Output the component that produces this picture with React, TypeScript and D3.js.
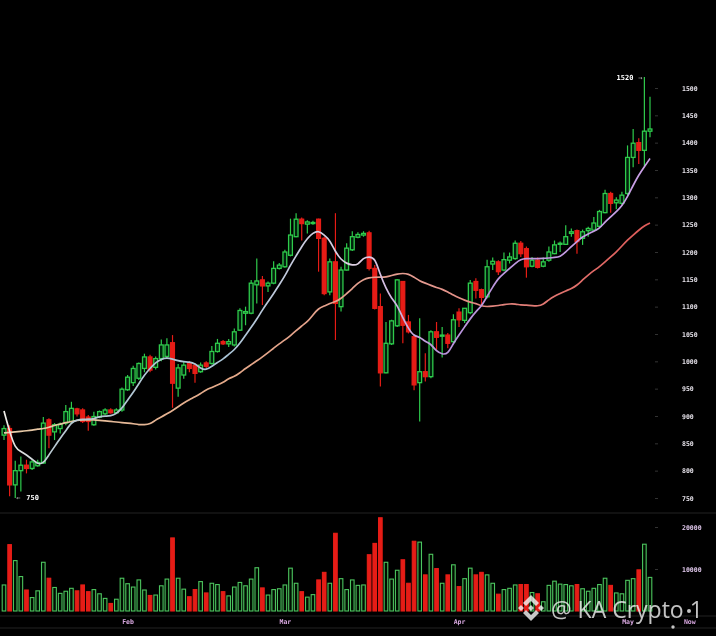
import React, { useEffect, useRef } from "react";
import * as d3 from "d3";

const opens = [
  865, 877, 774, 800, 810, 804, 809, 814, 893, 871,
  877, 887, 890, 913, 911, 898, 884, 898, 904, 911,
  906, 911, 948, 961, 969, 987, 1008, 989, 1005, 1009,
  1034, 951, 975, 996, 993, 981, 997, 996, 1018, 1036,
  1032, 1030, 1057, 1088, 1088, 1140, 1149, 1138, 1143, 1170,
  1173, 1194, 1228, 1260, 1251, 1252, 1260, 1225, 1127, 1182,
  1100, 1167, 1204, 1227, 1231, 1235, 1170, 1100, 979, 1032,
  1065, 1146, 1072, 1045, 961, 981, 972, 1054, 1046, 1048,
  1036, 1090, 1075, 1089, 1146, 1131, 1118, 1178, 1182, 1167,
  1185, 1188, 1216, 1206, 1174, 1185, 1174, 1185, 1197, 1214,
  1214, 1234, 1239, 1225, 1239, 1240, 1247, 1272, 1307, 1290,
  1289, 1307, 1373, 1400, 1386, 1421,
];
const closes = [
  877, 774, 800, 810, 804, 816, 815, 887, 865, 884,
  885, 908, 914, 904, 890, 890, 899, 908, 911, 906,
  911, 949, 971, 987, 996, 1008, 984, 1005, 1030, 1030,
  960, 988, 993, 987, 978, 993, 991, 1018, 1033, 1032,
  1036, 1054, 1093, 1091, 1143, 1147, 1138, 1143, 1170, 1176,
  1200, 1231, 1260, 1252, 1255, 1254, 1225, 1124, 1182, 1106,
  1167, 1207, 1228, 1232, 1234, 1170, 1097, 979, 1033, 1074,
  1149, 1066, 1054, 957, 981, 972, 1054, 1044, 1048, 1033,
  1076, 1076, 1097, 1143, 1130, 1117, 1173, 1183, 1164, 1186,
  1191, 1216, 1197, 1173, 1185, 1172, 1182, 1200, 1213, 1216,
  1228, 1237, 1219, 1237, 1243, 1253, 1274, 1307, 1289, 1295,
  1304, 1373, 1399, 1386, 1421, 1425,
];
const highs = [
  883, 883, 818, 826, 820, 820, 820, 898, 896, 887,
  888, 920, 926, 915, 914, 902, 908, 910, 914, 914,
  914, 952, 975, 992, 998, 1014, 1012, 1009, 1040, 1042,
  1048, 995, 1000, 1000, 996, 998, 1000, 1028, 1041, 1039,
  1041, 1060, 1097, 1100, 1149, 1188, 1156, 1146, 1183, 1180,
  1204, 1261, 1271, 1263, 1258, 1257, 1261, 1228, 1188, 1271,
  1173, 1216, 1238, 1236, 1238, 1239, 1176, 1124, 1072, 1076,
  1150, 1147, 1085, 1048, 1079, 1015, 1057, 1072, 1063, 1052,
  1086, 1097, 1097, 1149, 1152, 1133, 1186, 1190, 1185, 1199,
  1199, 1221, 1220, 1210, 1191, 1190, 1190, 1210, 1221, 1219,
  1249, 1243, 1241, 1241, 1246, 1264, 1277, 1314, 1310, 1300,
  1310, 1395, 1425, 1408, 1520, 1484,
];
const lows = [
  856, 753, 750, 762, 795, 801, 807, 812, 841, 856,
  868, 883, 887, 899, 887, 873, 882, 896, 902, 904,
  904, 908, 946, 955, 966, 980, 980, 985, 1000, 1005,
  915, 935, 968, 980, 961, 979, 988, 994, 1016, 1030,
  1026, 1027, 1056, 1066, 1086, 1106, 1103, 1127, 1141, 1168,
  1171, 1192, 1227, 1221, 1234, 1250, 1164, 1121, 1121, 1039,
  1091, 1166, 1202, 1225, 1228, 1166, 1095, 954, 978, 1030,
  1063, 1033, 1051, 947, 890, 963, 969, 1021, 1007, 1024,
  1033, 1063, 1070, 1086, 1115, 1103, 1115, 1167, 1158, 1165,
  1179, 1186, 1191, 1153, 1172, 1170, 1172, 1182, 1196, 1200,
  1213, 1228, 1197, 1213, 1228, 1239, 1246, 1271, 1272, 1278,
  1286, 1304, 1355, 1361, 1357, 1410,
];
const volumes = [
  6200, 15800, 12000, 8200, 5000, 3200, 4800, 11600, 7800, 5600,
  4200, 4700, 5400, 4800, 6200, 4600, 5100, 4100, 3000, 1800,
  2800, 7800, 6500, 5700, 7400, 5000, 3700, 3800, 6000, 7600,
  17400, 7800, 5200, 3400, 5100, 7000, 4300, 6600, 6300, 4600,
  3600, 5700, 6800, 6000, 7600, 10300, 5500, 3800, 5100, 5300,
  6200, 10200, 6600, 4600, 3300, 3900, 7400, 9200, 6600, 18500,
  7700, 5100, 7400, 6100, 6200, 13400, 16100, 22200, 11600, 7600,
  9700, 12200, 6600, 16600, 16400, 8600, 13500, 10100, 6600, 8600,
  11000, 5800, 7700, 10200, 8600, 9200, 8600, 6600, 4000, 5100,
  5400, 6200, 6300, 6300, 4400, 4100, 2200, 6100, 7100, 6400,
  6300, 6000, 6300, 5300, 4700, 5400, 6300, 7800, 6100, 4300,
  4100, 7300, 7700, 9800, 15900, 8000,
];
const maShort = [
  909, 871, 841, 835, 829, 821, 812, 813, 829, 844,
  859, 873, 888, 893, 894, 894, 895, 899, 900, 900,
  904, 914, 929, 943, 959, 975, 987, 998, 1004, 1007,
  1004, 1001, 999, 999, 996, 987, 984, 991, 998, 1004,
  1013, 1021, 1033, 1048, 1062, 1077, 1094, 1109, 1124, 1140,
  1156, 1176, 1193, 1210, 1225, 1235, 1239, 1231, 1222, 1200,
  1186, 1179, 1176, 1176, 1190, 1191, 1190, 1158, 1133, 1115,
  1103, 1079, 1060, 1046, 1045, 1036, 1032, 1018, 1013, 1013,
  1033, 1048, 1063, 1078, 1091, 1101, 1119, 1136, 1152, 1161,
  1170, 1179, 1187, 1188, 1188, 1188, 1188, 1189, 1190, 1191,
  1200, 1210, 1219, 1228, 1233, 1238, 1243, 1255, 1264, 1274,
  1284, 1301, 1322, 1341, 1356, 1371,
];
const maLong = [
  869, 870, 871, 872, 873, 874, 876, 877, 879, 883,
  885, 888, 890, 892, 893, 893, 893, 892, 891, 890,
  889, 888, 887, 886, 884, 884, 885, 893, 898, 904,
  910, 917, 924, 930, 935, 941, 948, 952, 957, 961,
  969, 972, 979, 987, 994, 1001, 1008, 1016, 1024, 1032,
  1039, 1047, 1056, 1065, 1072, 1085, 1097, 1101, 1106, 1109,
  1115, 1124, 1133, 1143, 1150, 1153, 1154, 1154, 1154, 1157,
  1160, 1161, 1160, 1154, 1147, 1143, 1139, 1135, 1132, 1127,
  1121, 1116, 1112, 1108, 1106, 1101, 1100, 1101, 1102, 1104,
  1105, 1105, 1103, 1103, 1102, 1101, 1104, 1113, 1119, 1124,
  1129, 1133, 1139, 1149, 1158, 1166, 1173, 1182, 1191, 1200,
  1211, 1222, 1231, 1240, 1248, 1253,
];
const priceTicks = [750, 800, 850, 900, 950, 1000, 1050, 1100, 1150, 1200, 1250, 1300, 1350, 1400, 1450, 1500];
const volumeTicks = [10000, 20000];
const timeTicks = ["Feb", "Mar", "Apr", "May", "Now"];
const tickDates = [
  new Date(Date.UTC(2021, 1, 1)),
  new Date(Date.UTC(2021, 2, 1)),
  new Date(Date.UTC(2021, 3, 1)),
  new Date(Date.UTC(2021, 4, 1)),
  new Date(Date.UTC(2021, 4, 12)),
];
const firstDay = new Date(Date.UTC(2021, 0, 10));

const GREEN = "#2ecb4c";
const RED = "#e61c16";
const MONO = "'DejaVu Sans Mono', monospace";

const App: React.FC = () => {
  const svgRef = useRef<SVGSVGElement>(null);

  useEffect(() => {
    const svg = d3.select(svgRef.current);
    svg.selectAll("*").remove();

    const days = opens.map((_, i) => d3.utcDay.offset(firstDay, i));
    const x = d3.scaleUtc().domain([firstDay, days[days.length - 1]]).range([4, 650]);
    const y = d3.scaleLinear().domain([750, 1500]).range([498, 88]);
    const yVol = d3.scaleLinear().domain([0, 20000]).range([611, 527]);

    const defs = svg.append("defs");
    defs.append("filter").attr("id", "soft").append("feGaussianBlur").attr("stdDeviation", 0.55);

    const shortGrad = defs
      .append("linearGradient")
      .attr("id", "maShort")
      .attr("gradientUnits", "userSpaceOnUse")
      .attr("x1", 0)
      .attr("x2", 650)
      .attr("y1", 0)
      .attr("y2", 0);
    [
      [0, "#f4efe8"],
      [0.08, "#b9c9d2"],
      [0.35, "#a9c4d6"],
      [0.55, "#e0d0e4"],
      [0.68, "#b894dc"],
      [1, "#c9a0e6"],
    ].forEach(([o, c]) => shortGrad.append("stop").attr("offset", o).attr("stop-color", c));

    const longGrad = defs
      .append("linearGradient")
      .attr("id", "maLong")
      .attr("gradientUnits", "userSpaceOnUse")
      .attr("x1", 0)
      .attr("x2", 650)
      .attr("y1", 0)
      .attr("y2", 0);
    [
      [0, "#e8cdaa"],
      [0.35, "#e4a888"],
      [0.65, "#e49a90"],
      [1, "#df5a58"],
    ].forEach(([o, c]) => longGrad.append("stop").attr("offset", o).attr("stop-color", c));

    svg.append("rect").attr("width", 716).attr("height", 636).attr("fill", "#000");

    const plot = svg.append("g").attr("filter", "url(#soft)");

    // panel separators
    [513, 616, 628].forEach((py) =>
      plot
        .append("line")
        .attr("x1", 0)
        .attr("x2", 716)
        .attr("y1", py)
        .attr("y2", py)
        .attr("stroke", "#222")
        .attr("stroke-width", 1)
    );

    // candles
    const candles = plot
      .selectAll("g.candle")
      .data(opens.map((_, i) => i))
      .join("g")
      .attr("class", "candle");
    const colorOf = (i: number) => (closes[i] >= opens[i] ? GREEN : RED);
    candles
      .append("line")
      .attr("x1", (i) => x(days[i]))
      .attr("x2", (i) => x(days[i]))
      .attr("y1", (i) => y(highs[i]))
      .attr("y2", (i) => y(lows[i]))
      .attr("stroke", colorOf)
      .attr("stroke-width", 1.2);
    candles
      .append("rect")
      .attr("x", (i) => x(days[i]) - 1.9)
      .attr("width", 3.8)
      .attr("y", (i) => y(Math.max(opens[i], closes[i])))
      .attr("height", (i) => Math.max(1, Math.abs(y(opens[i]) - y(closes[i]))))
      .attr("fill", (i) => (closes[i] >= opens[i] ? "#04200a" : RED))
      .attr("stroke", colorOf)
      .attr("stroke-width", 1.3);

    // moving averages
    const line = d3
      .line<number>()
      .x((_, i) => x(days[i]))
      .y((d) => y(d))
      .curve(d3.curveBasis);
    plot
      .append("path")
      .attr("d", line(maLong) || "")
      .attr("fill", "none")
      .attr("stroke", "url(#maLong)")
      .attr("stroke-width", 1.7);
    plot
      .append("path")
      .attr("d", line(maShort) || "")
      .attr("fill", "none")
      .attr("stroke", "url(#maShort)")
      .attr("stroke-width", 1.7);

    // volume
    plot
      .selectAll("rect.vol")
      .data(volumes)
      .join("rect")
      .attr("class", "vol")
      .attr("x", (_, i) => x(days[i]) - 1.8)
      .attr("width", 3.6)
      .attr("y", (d) => yVol(d))
      .attr("height", (d) => yVol(0) - yVol(d))
      .attr("fill", (_, i) => (closes[i] >= opens[i] ? "#021004" : RED))
      .attr("stroke", (_, i) => (closes[i] >= opens[i] ? "#4cc45e" : RED))
      .attr("stroke-width", 1.1);

    // axes
    const styleAxis = (g: d3.Selection<SVGGElement, unknown, null, undefined>, fill: string) => {
      g.select(".domain").remove();
      g.selectAll("text")
        .attr("fill", fill)
        .attr("font-family", MONO)
        .attr("font-weight", "bold")
        .attr("font-size", 6.5);
      g.selectAll("line").attr("stroke", "#333");
    };

    const priceAxis = plot
      .append("g")
      .attr("transform", "translate(655,0)")
      .call(d3.axisRight(y).tickValues(priceTicks).tickSize(3).tickPadding(24).tickFormat(d3.format("d")));
    priceAxis.call(styleAxis, "#e6e2ea");

    const volAxis = plot
      .append("g")
      .attr("transform", "translate(655,0)")
      .call(d3.axisRight(yVol).tickValues(volumeTicks).tickSize(3).tickPadding(24).tickFormat(d3.format("d")));
    volAxis.call(styleAxis, "#e0c8ec");

    const timeAxis = plot
      .append("g")
      .attr("transform", "translate(0,616)")
      .call(
        d3
          .axisBottom(x)
          .tickValues(tickDates)
          .tickSize(0)
          .tickPadding(3)
          .tickFormat((_, i) => timeTicks[i])
      );
    timeAxis.call(styleAxis, "#d8a8e0");

    // high and low markers
    const hiIdx = d3.maxIndex(highs);
    const loIdx = d3.minIndex(lows);
    plot
      .append("text")
      .attr("x", x(days[hiIdx]) - 11)
      .attr("y", y(highs[hiIdx]) + 2.5)
      .attr("text-anchor", "end")
      .attr("fill", "#fff")
      .attr("font-family", MONO)
      .attr("font-weight", "bold")
      .attr("font-size", 7)
      .text(highs[hiIdx]);
    plot
      .append("text")
      .attr("x", x(days[hiIdx]) - 2)
      .attr("y", y(highs[hiIdx]) + 2.5)
      .attr("text-anchor", "end")
      .attr("fill", "#bbb")
      .attr("font-family", MONO)
      .attr("font-size", 7)
      .text("→");
    plot
      .append("text")
      .attr("x", x(days[loIdx]) + 1)
      .attr("y", y(lows[loIdx]) + 2)
      .attr("fill", "#bbb")
      .attr("font-family", MONO)
      .attr("font-size", 7)
      .text("←");
    plot
      .append("text")
      .attr("x", x(days[loIdx]) + 11)
      .attr("y", y(lows[loIdx]) + 2)
      .attr("fill", "#fff")
      .attr("font-family", MONO)
      .attr("font-weight", "bold")
      .attr("font-size", 7)
      .text(lows[loIdx]);

    // watermark
    const mark = svg.append("g").attr("opacity", 0.82);
    mark
      .append("path")
      .attr("transform", "translate(531,608)")
      .attr("fill", "#f2f2f2")
      .attr(
        "d",
        "M0,-13 L8,-5 L5,-2 L0,-7 L-5,-2 L-8,-5 Z M0,13 L8,5 L5,2 L0,7 L-5,2 L-8,5 Z M0,-3 L3,0 L0,3 L-3,0 Z M-10,-3 L-7,0 L-10,3 L-13,0 Z M10,-3 L13,0 L10,3 L7,0 Z"
      );
    mark
      .append("text")
      .attr("x", 551)
      .attr("y", 618)
      .attr("fill", "#eeeeee")
      .attr("font-family", "'Open Sans', sans-serif")
      .attr("font-size", 23)
      .text("@ KA Crypto");
    mark
      .append("text")
      .attr("x", 703)
      .attr("y", 618)
      .attr("text-anchor", "end")
      .attr("fill", "#eeeeee")
      .attr("font-family", "'Open Sans', sans-serif")
      .attr("font-size", 23)
      .text("1");
    mark.append("circle").attr("cx", 689).attr("cy", 611).attr("r", 2).attr("fill", "#eee");
    mark.append("circle").attr("cx", 673).attr("cy", 627).attr("r", 1.7).attr("fill", "#eee");
  }, []);

  return (
    <svg
      ref={svgRef}
      width={716}
      height={636}
      style={{ position: "absolute", left: 0, top: 0, display: "block" }}
    />
  );
};

export default App;
